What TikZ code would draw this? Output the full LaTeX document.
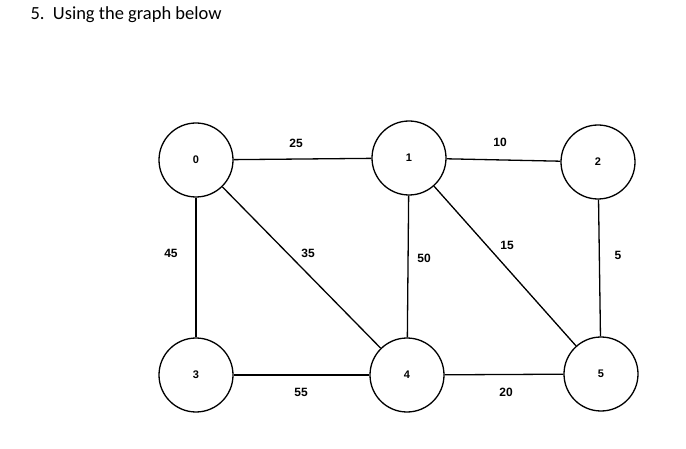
\documentclass[tikz,border=0pt]{standalone}
\usepackage{fontspec}
\setmainfont{Liberation Sans}
\newfontfamily\titlefont{Carlito}
\begin{document}
\begin{tikzpicture}[x=1pt,y=-1pt,
  vtx/.style={circle,draw,line width=1.3pt,minimum size=74pt,inner sep=0pt,font=\bfseries\fontsize{11}{12}\selectfont},
  wt/.style={font=\bfseries\fontsize{12}{14}\selectfont},
  edge/.style={line width=1.3pt}]
\useasboundingbox (0,0) rectangle (686,449);
\node[anchor=west,font=\titlefont\fontsize{18.5}{20}\selectfont] (t) at (27,15) {5.\ \ Using the graph below};
\node[vtx] (n0) at (196,160) {0};
\node[vtx] (n1) at (409,158) {1};
\node[vtx] (n2) at (598,162) {2};
\node[vtx] (n3) at (196,375) {3};
\node[vtx] (n4) at (407,375) {4};
\node[vtx] (n5) at (601,374) {5};
\draw[edge] (n0)--(n1); \draw[edge] (n1)--(n2);
\draw[edge] (n0)--(n3); \draw[edge] (n0)--(n4);
\draw[edge] (n1)--(n4); \draw[edge] (n1)--(n5);
\draw[edge] (n2)--(n5); \draw[edge] (n3)--(n4);
\draw[edge] (n4)--(n5);
\node[wt] (w25) at (296,143) {25};
\node[wt] (w10) at (500,142) {10};
\node[wt] (w45) at (171,253) {45};
\node[wt] (w35) at (308,253) {35};
\node[wt] (w50) at (424,258) {50};
\node[wt] (w15) at (507,245) {15};
\node[wt] (w5) at (618,255) {5};
\node[wt] (w55) at (301,392) {55};
\node[wt] (w20) at (506,392) {20};
\end{tikzpicture}
\end{document}
